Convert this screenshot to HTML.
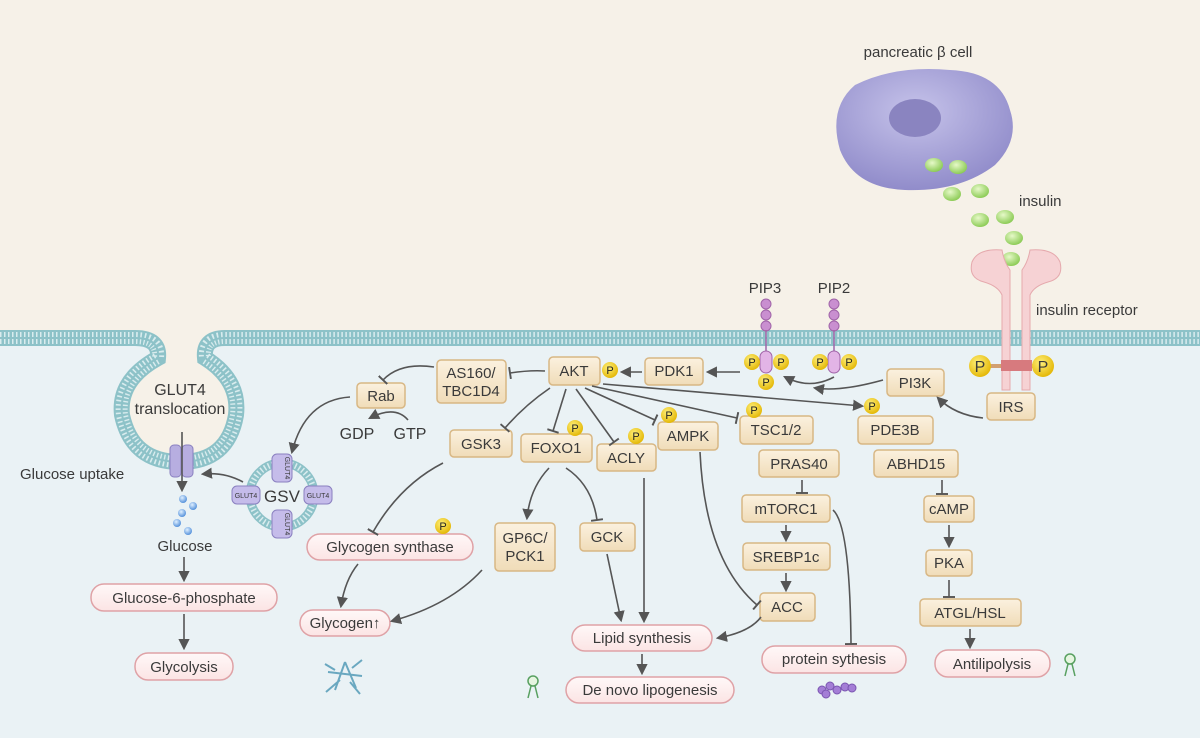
<!DOCTYPE html>
<html><head><meta charset="utf-8"><style>
body{margin:0;width:1200px;height:738px;overflow:hidden;background:#eaf2f5}
svg{display:block}
text{font-family:"Liberation Sans",sans-serif;fill:#3a3a3a}
</style></head><body>
<svg width="1200" height="738" viewBox="0 0 1200 738" xmlns="http://www.w3.org/2000/svg">
<defs>
<marker id="a" viewBox="0 0 10 10" refX="8" refY="5" markerWidth="7" markerHeight="7" orient="auto-start-reverse"><path d="M0,0 L10,5 L0,10 z" fill="#555"/></marker>
<marker id="t" viewBox="0 0 10 10" refX="9" refY="5" markerUnits="userSpaceOnUse" markerWidth="12" markerHeight="12" orient="auto"><path d="M9,0 L9,10" stroke="#555" stroke-width="1.6"/></marker>
<linearGradient id="bx" x1="0" y1="0" x2="0" y2="1"><stop offset="0" stop-color="#fbf1df"/><stop offset="1" stop-color="#f0dcb8"/></linearGradient>
<linearGradient id="pk" x1="0" y1="0" x2="0" y2="1"><stop offset="0" stop-color="#fff8f8"/><stop offset="1" stop-color="#fbe4e4"/></linearGradient>
<radialGradient id="yp" cx="0.4" cy="0.35" r="0.7"><stop offset="0" stop-color="#fff07a"/><stop offset="1" stop-color="#e2b400"/></radialGradient>
<radialGradient id="gr" cx="0.4" cy="0.35" r="0.7"><stop offset="0" stop-color="#e6f9c8"/><stop offset="1" stop-color="#86c84e"/></radialGradient>
<radialGradient id="cell" cx="0.45" cy="0.35" r="0.7"><stop offset="0" stop-color="#c6c3ea"/><stop offset="1" stop-color="#8d88c8"/></radialGradient>
<radialGradient id="bl" cx="0.4" cy="0.35" r="0.7"><stop offset="0" stop-color="#e0f0ff"/><stop offset="1" stop-color="#4a8ad8"/></radialGradient>
<style>
.ln{fill:none;stroke:#555;stroke-width:1.6}
.bx{fill:url(#bx);stroke:#d8b784;stroke-width:1.5}
.pk{fill:url(#pk);stroke:#dfa2a6;stroke-width:1.5}
.lb{font-size:15px;text-anchor:middle}
.pt{font-size:11px;text-anchor:middle;fill:#222}
</style>
</defs>
<rect x="0" y="0" width="1200" height="338" fill="#f6f1e8"/>
<path d="M135,338 Q160,338 158,358 Q118,380 122,415 Q132,462 180,462 Q228,462 236,415 Q240,380 205,358 Q203,338 225,338 Z" fill="#f6f1e8"/>
<path d="M0,338 L135,338 Q160,338 158,358 Q118,380 122,415 Q132,462 180,462 Q228,462 236,415 Q240,380 205,358 Q203,338 225,338 L1200,338" fill="none" stroke="#8dc2c8" stroke-width="16"/>
<path d="M0,338 L135,338 Q160,338 158,358 Q118,380 122,415 Q132,462 180,462 Q228,462 236,415 Q240,380 205,358 Q203,338 225,338 L1200,338" fill="none" stroke="#d9ecee" stroke-width="12" stroke-dasharray="1.5 2.5"/>
<path d="M0,338 L135,338 Q160,338 158,358 Q118,380 122,415 Q132,462 180,462 Q228,462 236,415 Q240,380 205,358 Q203,338 225,338 L1200,338" fill="none" stroke="#8dc2c8" stroke-width="2"/>
<!-- beta cell -->
<path d="M855,85 Q895,65 950,70 Q1000,72 1010,110 Q1020,140 995,165 Q960,192 905,190 Q855,188 840,150 Q828,108 855,85 Z" fill="url(#cell)"/>
<ellipse cx="915" cy="118" rx="26" ry="19" fill="#8a84c0"/>
<text x="918" y="57" class="lb">pancreatic β cell</text>
<g fill="url(#gr)"><ellipse cx="934" cy="165" rx="9" ry="7"/><ellipse cx="958" cy="167" rx="9" ry="7"/><ellipse cx="952" cy="194" rx="9" ry="7"/><ellipse cx="980" cy="191" rx="9" ry="7"/><ellipse cx="980" cy="220" rx="9" ry="7"/><ellipse cx="1005" cy="217" rx="9" ry="7"/><ellipse cx="1014" cy="238" rx="9" ry="7"/><ellipse cx="1011" cy="259" rx="9" ry="7"/></g>
<text x="1019" y="206" style="font-size:15px">insulin</text>
<!-- receptor -->
<path d="M1002,250 Q978,248 972,262 Q968,278 984,282 Q998,286 1002,295 L1002,390 L1010,390 L1010,270 Q1004,262 1002,250Z" fill="#f6d2d4" stroke="#e5a9ad"/>
<path d="M1030,250 Q1054,248 1060,262 Q1064,278 1048,282 Q1034,286 1030,295 L1030,390 L1022,390 L1022,270 Q1028,262 1030,250Z" fill="#f6d2d4" stroke="#e5a9ad"/>
<rect x="985" y="364" width="62" height="4" fill="#d2a070"/>
<rect x="1001" y="360" width="31" height="11" fill="#d77a7e"/>
<circle cx="980" cy="366" r="11" fill="url(#yp)"/><text x="980" y="372" style="font-size:16px;text-anchor:middle">P</text>
<circle cx="1043" cy="366" r="11" fill="url(#yp)"/><text x="1043" y="372" style="font-size:16px;text-anchor:middle">P</text>
<text x="1036" y="315" style="font-size:15px">insulin receptor</text>
<!-- PIP -->
<text x="765" y="293" class="lb">PIP3</text>
<text x="834" y="293" class="lb">PIP2</text>
<g fill="#c98fd0" stroke="#a064a8"><circle cx="766" cy="304" r="5"/><circle cx="766" cy="315" r="5"/><circle cx="766" cy="326" r="5"/><circle cx="834" cy="304" r="5"/><circle cx="834" cy="315" r="5"/><circle cx="834" cy="326" r="5"/></g>
<path d="M766,330 V352 M834,330 V352" stroke="#a064a8" stroke-width="1.5"/>
<rect x="760" y="351" width="12" height="22" rx="6" fill="#e2b4e6" stroke="#a064a8"/>
<rect x="828" y="351" width="12" height="22" rx="6" fill="#e2b4e6" stroke="#a064a8"/>
<g><circle cx="752" cy="362" r="8" fill="url(#yp)"/><text x="752" y="366" class="pt">P</text>
<circle cx="781" cy="362" r="8" fill="url(#yp)"/><text x="781" y="366" class="pt">P</text>
<circle cx="766" cy="382" r="8" fill="url(#yp)"/><text x="766" y="386" class="pt">P</text>
<circle cx="820" cy="362" r="8" fill="url(#yp)"/><text x="820" y="366" class="pt">P</text>
<circle cx="849" cy="362" r="8" fill="url(#yp)"/><text x="849" y="366" class="pt">P</text></g>
<!-- GLUT4 -->
<text x="180" y="395" class="lb" style="font-size:16px">GLUT4</text>
<text x="180" y="414" class="lb" style="font-size:16px">translocation</text>
<g fill="#b7aee0" stroke="#8a80c0"><rect x="170" y="445" width="11" height="32" rx="4"/><rect x="182" y="445" width="11" height="32" rx="4"/></g>
<text x="20" y="479" style="font-size:15px">Glucose uptake</text>
<path class="ln" d="M182,432 V490" marker-end="url(#a)"/>
<g fill="url(#bl)"><circle cx="183" cy="499" r="4"/><circle cx="193" cy="506" r="4"/><circle cx="182" cy="513" r="4"/><circle cx="177" cy="523" r="4"/><circle cx="188" cy="531" r="4"/></g>
<text x="185" y="551" class="lb">Glucose</text>
<!-- GSV -->
<circle cx="282" cy="495" r="32" fill="none" stroke="#8dc2c8" stroke-width="9"/>
<circle cx="282" cy="495" r="32" fill="none" stroke="#d9ecee" stroke-width="6" stroke-dasharray="1.5 2.5"/>
<g fill="#c5bcea" stroke="#8a80c0"><rect x="272" y="454" width="20" height="28" rx="5"/><rect x="272" y="510" width="20" height="28" rx="5"/><rect x="232" y="486" width="28" height="18" rx="5"/><rect x="304" y="486" width="28" height="18" rx="5"/></g>
<text x="282" y="502" class="lb" style="font-size:17px">GSV</text>
<g style="font-size:7px;text-anchor:middle"><text x="246" y="498">GLUT4</text><text x="318" y="498">GLUT4</text><text x="0" y="0" transform="translate(285,468) rotate(90)">GLUT4</text><text x="0" y="0" transform="translate(285,524) rotate(90)">GLUT4</text></g>
<path class="ln" d="M243,482 Q225,472 203,474" marker-end="url(#a)"/>
<path class="ln" d="M350,397 Q305,400 292,452" marker-end="url(#a)"/>
<!-- Rab -->
<rect class="bx" x="357" y="383" width="48" height="25" rx="4"/><text x="381" y="401" class="lb">Rab</text>
<text x="357" y="439" class="lb" style="font-size:16px">GDP</text><text x="410" y="439" class="lb" style="font-size:16px">GTP</text>
<path class="ln" d="M408,420 Q395,405 370,418" marker-end="url(#a)"/>
<path class="ln" d="M434,367 Q400,362 383,380" marker-end="url(#t)"/>
<!-- boxes -->
<rect class="bx" x="437" y="360" width="69" height="43" rx="4"/><text x="471" y="378" class="lb">AS160/</text><text x="471" y="396" class="lb">TBC1D4</text>
<rect class="bx" x="549" y="357" width="51" height="28" rx="4"/><text x="574" y="376" class="lb">AKT</text>
<circle cx="610" cy="370" r="8" fill="url(#yp)"/><text x="610" y="374" class="pt">P</text>
<rect class="bx" x="645" y="358" width="58" height="27" rx="4"/><text x="674" y="376" class="lb">PDK1</text>
<rect class="bx" x="450" y="430" width="62" height="27" rx="4"/><text x="481" y="449" class="lb">GSK3</text>
<rect class="bx" x="521" y="434" width="71" height="28" rx="4"/><text x="556" y="453" class="lb">FOXO1</text>
<circle cx="575" cy="428" r="8" fill="url(#yp)"/><text x="575" y="432" class="pt">P</text>
<rect class="bx" x="597" y="444" width="59" height="27" rx="4"/><text x="626" y="463" class="lb">ACLY</text>
<circle cx="636" cy="436" r="8" fill="url(#yp)"/><text x="636" y="440" class="pt">P</text>
<rect class="bx" x="658" y="422" width="60" height="28" rx="4"/><text x="688" y="441" class="lb">AMPK</text>
<circle cx="669" cy="415" r="8" fill="url(#yp)"/><text x="669" y="419" class="pt">P</text>
<rect class="bx" x="740" y="416" width="73" height="28" rx="4"/><text x="776" y="435" class="lb">TSC1/2</text>
<circle cx="754" cy="410" r="8" fill="url(#yp)"/><text x="754" y="414" class="pt">P</text>
<rect class="bx" x="887" y="369" width="57" height="27" rx="4"/><text x="915" y="388" class="lb">PI3K</text>
<rect class="bx" x="987" y="393" width="48" height="27" rx="4"/><text x="1011" y="412" class="lb">IRS</text>
<circle cx="872" cy="406" r="8" fill="url(#yp)"/><text x="872" y="410" class="pt">P</text>
<rect class="bx" x="858" y="416" width="75" height="28" rx="4"/><text x="895" y="435" class="lb">PDE3B</text>
<rect class="bx" x="759" y="450" width="80" height="27" rx="4"/><text x="799" y="469" class="lb">PRAS40</text>
<rect class="bx" x="874" y="450" width="84" height="27" rx="4"/><text x="916" y="469" class="lb">ABHD15</text>
<rect class="bx" x="742" y="495" width="88" height="27" rx="4"/><text x="786" y="514" class="lb">mTORC1</text>
<rect class="bx" x="924" y="496" width="50" height="26" rx="4"/><text x="949" y="514" class="lb">cAMP</text>
<rect class="bx" x="743" y="543" width="87" height="27" rx="4"/><text x="786" y="562" class="lb">SREBP1c</text>
<rect class="bx" x="926" y="550" width="46" height="26" rx="4"/><text x="949" y="568" class="lb">PKA</text>
<rect class="bx" x="760" y="593" width="55" height="28" rx="4"/><text x="787" y="612" class="lb">ACC</text>
<rect class="bx" x="920" y="599" width="101" height="27" rx="4"/><text x="970" y="618" class="lb">ATGL/HSL</text>
<rect class="bx" x="495" y="523" width="60" height="48" rx="4"/><text x="525" y="543" class="lb">GP6C/</text><text x="525" y="561" class="lb">PCK1</text>
<rect class="bx" x="580" y="523" width="55" height="28" rx="4"/><text x="607" y="542" class="lb">GCK</text>
<!-- pink -->
<rect class="pk" x="307" y="534" width="166" height="26" rx="13"/><text x="390" y="552" class="lb">Glycogen synthase</text>
<circle cx="443" cy="526" r="8" fill="url(#yp)"/><text x="443" y="530" class="pt">P</text>
<rect class="pk" x="91" y="584" width="186" height="27" rx="13"/><text x="184" y="603" class="lb">Glucose-6-phosphate</text>
<rect class="pk" x="135" y="653" width="98" height="27" rx="13"/><text x="184" y="672" class="lb">Glycolysis</text>
<rect class="pk" x="300" y="610" width="90" height="26" rx="13"/><text x="345" y="628" class="lb">Glycogen↑</text>
<rect class="pk" x="572" y="625" width="140" height="26" rx="13"/><text x="642" y="643" class="lb">Lipid synthesis</text>
<rect class="pk" x="566" y="677" width="168" height="26" rx="13"/><text x="650" y="695" class="lb">De novo lipogenesis</text>
<rect class="pk" x="762" y="646" width="144" height="27" rx="13"/><text x="834" y="664" class="lb">protein sythesis</text>
<rect class="pk" x="935" y="650" width="115" height="27" rx="13"/><text x="992" y="669" class="lb">Antilipolysis</text>
<!-- connectors -->
<path class="ln" d="M184,557 V580" marker-end="url(#a)"/>
<path class="ln" d="M184,614 V648" marker-end="url(#a)"/>
<path class="ln" d="M545,371 Q530,370 510,373" marker-end="url(#t)"/>
<path class="ln" d="M642,372 H622" marker-end="url(#a)"/>
<path class="ln" d="M740,372 H708" marker-end="url(#a)"/>
<path class="ln" d="M834,377 Q810,390 785,377" marker-end="url(#a)"/>
<path class="ln" d="M883,380 Q840,392 815,388" marker-end="url(#a)"/>
<path class="ln" d="M983,418 Q955,415 938,398" marker-end="url(#a)"/>
<path class="ln" d="M550,388 Q525,405 505,428" marker-end="url(#t)"/>
<path class="ln" d="M566,389 L553,431" marker-end="url(#t)"/>
<path class="ln" d="M576,389 L614,442" marker-end="url(#t)"/>
<path class="ln" d="M585,388 L655,420" marker-end="url(#t)"/>
<path class="ln" d="M592,386 L737,418" marker-end="url(#t)"/>
<path class="ln" d="M603,384 L862,406" marker-end="url(#a)"/>
<path class="ln" d="M443,463 Q400,485 373,532" marker-end="url(#t)"/>
<path class="ln" d="M358,564 Q345,580 341,606" marker-end="url(#a)"/>
<path class="ln" d="M482,570 Q450,605 392,621" marker-end="url(#a)"/>
<path class="ln" d="M549,468 Q530,488 527,518" marker-end="url(#a)"/>
<path class="ln" d="M566,468 Q592,485 597,520" marker-end="url(#t)"/>
<path class="ln" d="M607,554 L621,620" marker-end="url(#a)"/>
<path class="ln" d="M644,478 V621" marker-end="url(#a)"/>
<path class="ln" d="M700,452 Q705,560 757,605" marker-end="url(#t)"/>
<path class="ln" d="M761,617 Q750,632 718,638" marker-end="url(#a)"/>
<path class="ln" d="M642,654 V673" marker-end="url(#a)"/>
<path class="ln" d="M802,480 V493" marker-end="url(#t)"/>
<path class="ln" d="M786,525 V540" marker-end="url(#a)"/>
<path class="ln" d="M786,573 V590" marker-end="url(#a)"/>
<path class="ln" d="M833,510 Q850,525 851,644" marker-end="url(#t)"/>
<path class="ln" d="M942,480 V494" marker-end="url(#t)"/>
<path class="ln" d="M949,525 V546" marker-end="url(#a)"/>
<path class="ln" d="M949,580 V597" marker-end="url(#t)"/>
<path class="ln" d="M970,629 V647" marker-end="url(#a)"/>
<!-- icons -->
<g stroke="#6aa8c0" stroke-width="2" fill="none"><path d="M345,662 L335,690 M345,662 L356,688 M328,672 L362,676 M340,680 L326,692 M352,668 L362,660 M335,670 L325,664 M350,682 L360,694"/></g>
<g fill="#a47ed6" stroke="#7a55b0"><circle cx="822" cy="690" r="4"/><circle cx="830" cy="686" r="4"/><circle cx="826" cy="694" r="4"/><circle cx="837" cy="690" r="4"/><circle cx="845" cy="687" r="4"/><circle cx="852" cy="688" r="4"/></g>
<g stroke="#58a060" fill="none" stroke-width="1.5"><circle cx="533" cy="681" r="5" fill="#e6f5e0"/><path d="M531,686 L528,698 M535,686 L538,698"/><circle cx="1070" cy="659" r="5" fill="#e6f5e0"/><path d="M1068,664 L1065,676 M1072,664 L1075,676"/></g>
</svg>
</body></html>
